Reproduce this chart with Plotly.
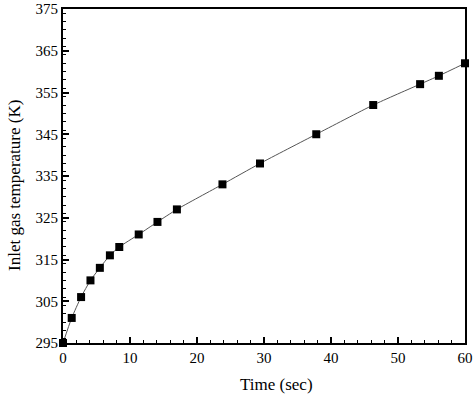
import plotly.graph_objects as go

time_sec = [0, 1.3, 2.7, 4.1, 5.5, 7.0, 8.4, 11.3, 14.1, 17.0, 23.8, 29.4, 37.8, 46.3, 53.3, 56.1, 60.0]
temp_k = [295, 301, 306, 310, 313, 316, 318, 321, 324, 327, 333, 338, 345, 352, 357, 359, 362]
x_ticks = [0, 10, 20, 30, 40, 50, 60]
y_ticks = [295, 305, 315, 325, 335, 345, 355, 365, 375]

FONT = "Liberation Serif, Times New Roman, serif"

fig = go.Figure()
fig.add_trace(go.Scatter(
    x=time_sec, y=temp_k, mode="lines+markers",
    line=dict(color="#555555", width=1, shape="spline", smoothing=0.6),
    marker=dict(symbol="square", size=8, color="black"),
    cliponaxis=False, showlegend=False,
))

axis_common = dict(
    showline=True, linecolor="black", linewidth=2, mirror=True,
    ticks="inside", ticklen=6, tickwidth=1.5, tickcolor="black",
    showgrid=False, zeroline=False, automargin=False,
    tickfont=dict(family=FONT, size=15, color="black"),
)

fig.update_xaxes(range=[0, 60], tickvals=x_ticks,
                 minor=dict(dtick=2, ticks="inside", ticklen=3, tickcolor="black", tickwidth=1),
                 **axis_common)
fig.update_yaxes(range=[295, 375], tickvals=y_ticks,
                 minor=dict(dtick=2, ticks="inside", ticklen=3, tickcolor="black", tickwidth=1),
                 **axis_common)

fig.add_annotation(text="Time (sec)", xref="paper", yref="paper", x=0.532, y=-0.125,
                   showarrow=False, yanchor="middle", xanchor="center",
                   font=dict(family=FONT, size=17, color="black"))
fig.add_annotation(text="Inlet gas temperature (K)", xref="paper", yref="paper",
                   x=-0.122, y=0.473, textangle=-90, showarrow=False,
                   xanchor="center", yanchor="middle",
                   font=dict(family=FONT, size=17, color="black"))

fig.update_layout(
    width=474, height=399,
    margin=dict(l=63, r=9, t=9, b=56),
    plot_bgcolor="white", paper_bgcolor="white",
)

fig.write_html("out.html", config={"displayModeBar": False},
               post_script="document.body.style.margin='0';")
